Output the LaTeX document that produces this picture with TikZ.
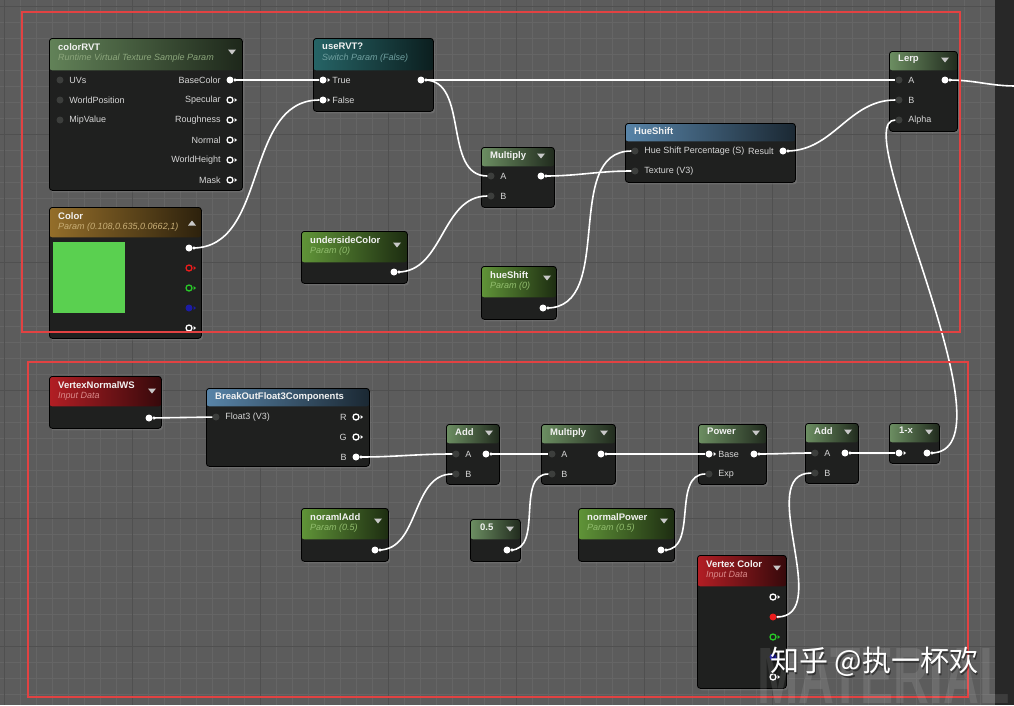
\documentclass[tikz,border=0pt]{standalone}
\usepackage{fontspec}
\setmainfont{Liberation Sans}
\newfontfamily\cjk{Noto Sans CJK SC}
\usetikzlibrary{positioning,shadows}

\definecolor{canvascol}{RGB}{92,92,92}
\definecolor{gridcol}{RGB}{101,101,101}
\definecolor{gridcolb}{RGB}{80,80,80}
\definecolor{stripcol}{RGB}{40,40,40}
\definecolor{nodebody}{RGB}{31,32,31}
\definecolor{pinoff}{RGB}{60,62,60}
\definecolor{titletext}{RGB}{242,242,242}
\definecolor{labeltext}{RGB}{214,214,214}
\definecolor{ddcol}{RGB}{200,200,200}
\definecolor{framered}{RGB}{226,66,66}
\definecolor{hdrrvt}{RGB}{98,130,88}
\definecolor{hdrmath}{RGB}{108,142,98}
\definecolor{hdrparam}{RGB}{96,148,56}
\definecolor{hdrteal}{RGB}{38,100,102}
\definecolor{hdrblue}{RGB}{88,132,168}
\definecolor{hdrred}{RGB}{178,30,36}
\definecolor{hdrgold}{RGB}{148,110,42}
\definecolor{subrvt}{RGB}{140,166,124}
\definecolor{subteal}{RGB}{112,160,160}
\definecolor{subgold}{RGB}{200,174,118}
\definecolor{subparam}{RGB}{146,190,110}
\definecolor{subred}{RGB}{218,138,138}
\definecolor{swatch}{RGB}{90,208,80}
\definecolor{pinred}{RGB}{236,28,28}
\definecolor{pingreen}{RGB}{40,200,40}
\definecolor{pinblue}{RGB}{28,28,165}

\tikzset{
  matbox/.style n args={4}{draw=black, line width=0.8pt, fill=nodebody,
    rounded corners=3pt, anchor=north west, inner sep=0pt,
    minimum width=#1pt, minimum height=#2pt,
    drop shadow={opacity=0.45, shadow xshift=1.5pt, shadow yshift=-2pt},
    path picture={\shade[left color=#3, right color=#3!30!black]
      (path picture bounding box.north west) rectangle
      ([yshift=-#4pt]path picture bounding box.north east);}},
  ttl/.style={font=\fontsize{9.5}{11}\selectfont\bfseries, text=titletext, inner sep=0pt},
  sub/.style={font=\fontsize{9}{10}\selectfont\itshape, text=#1, inner sep=0pt},
  lbl/.style={font=\fontsize{9}{10}\selectfont, text=labeltext, inner ysep=0pt, inner xsep=5.5pt},
  pinbase/.style={circle, inner sep=0pt, minimum size=7pt},
  pintip/.style={append after command={\pgfextra{\fill[#1]
      ([shift={(1pt,1.9pt)}]\tikzlastnode.east) -- ++(2.3pt,-1.9pt) -- ++(-2.3pt,-1.9pt) -- cycle;}}},
  outpin/.style={pinbase, fill=#1, pintip=#1},
  outpin/.default=white,
  ringpin/.style={pinbase, draw=#1, line width=1.3pt, minimum size=6pt, pintip=#1},
  ringpin/.default=white,
  inpin/.style={pinbase, fill=pinoff},
  onpin/.style={pinbase, fill=white, pintip=white},
  wire/.style={draw=white, line width=1.6pt},
  redframe/.style={draw=framered, line width=2.4pt},
  pics/dd/.style={code={\fill[ddcol] (-4pt,2.5pt) -- (4pt,2.5pt) -- (0pt,-2.5pt) -- cycle;}},
  pics/du/.style={code={\fill[ddcol] (-4pt,-2.5pt) -- (4pt,-2.5pt) -- (0pt,2.5pt) -- cycle;}},
}

\begin{document}
\begin{tikzpicture}[x=1pt,y=-1pt]
    \useasboundingbox (0,0) rectangle (1014,705);
    \clip (0,0) rectangle (1014,705);

    % Canvas
    \fill[canvascol] (0,0) rectangle (1014,705);
    \foreach \gx in {4,20,...,1000} \draw[gridcol, line width=0.6pt] (\gx,0) -- (\gx,705);
    \foreach \gy in {6,22,...,702} \draw[gridcol, line width=0.6pt] (0,\gy) -- (1014,\gy);
    \foreach \gx in {4,132,...,900} \draw[gridcolb, line width=0.8pt] (\gx,0) -- (\gx,705);
    \foreach \gy in {6,134,...,700} \draw[gridcolb, line width=0.8pt] (0,\gy) -- (1014,\gy);
    \fill[stripcol] (995,0) rectangle (1014,705);

    % Nodes
    \node[matbox={193}{152}{hdrrvt}{32}] (colorRVT) at (49,38) {};
    \node[matbox={120}{73}{hdrteal}{32}] (useRVT) at (313,38) {};
    \node[matbox={73}{60}{hdrmath}{19}] (mulTop) at (481,147) {};
    \node[matbox={170}{59}{hdrblue}{18}] (hueFn) at (625,123) {};
    \node[matbox={68}{80}{hdrmath}{19}] (lerp) at (889,51) {};
    \node[matbox={152}{131}{hdrgold}{30}] (colorP) at (49,207) {};
    \node[matbox={106}{52}{hdrparam}{31}] (under) at (301,231) {};
    \node[matbox={75}{53}{hdrparam}{31}] (hueP) at (481,266) {};

    \node[matbox={112}{52}{hdrred}{30}] (vnormal) at (49,376) {};
    \node[matbox={163}{78}{hdrblue}{18}] (breakout) at (206,388) {};
    \node[matbox={53}{60}{hdrmath}{19}] (add1) at (446,424) {};
    \node[matbox={74}{60}{hdrmath}{19}] (mul2) at (541,424) {};
    \node[matbox={68}{60}{hdrmath}{19}] (pow) at (698,424) {};
    \node[matbox={53}{60}{hdrmath}{19}] (add2) at (805,423) {};
    \node[matbox={50}{40}{hdrmath}{19}] (omx) at (889,423) {};
    \node[matbox={87}{53}{hdrparam}{31}] (nadd) at (301,508) {};
    \node[matbox={50}{42}{hdrmath}{20}] (half) at (470,519) {};
    \node[matbox={96}{53}{hdrparam}{31}] (npow) at (578,508) {};
    \node[matbox={89}{133}{hdrred}{31}] (vcol) at (697,555) {};

    \node[fill=swatch, anchor=north west, inner sep=0pt, minimum width=72pt, minimum height=71pt] (colorP_sw) at (53,242) {};

    % Titles
    \node[ttl, below right=5pt and 9pt of colorRVT.north west] (colorRVT_t) {colorRVT};
    \node[sub=subrvt, below right=4pt and 0pt of colorRVT_t.base west] (colorRVT_s) {Runtime Virtual Texture Sample Param};
    \node[ttl, below right=5pt and 9pt of useRVT.north west] (useRVT_t) {useRVT?};
    \node[sub=subteal, below right=4pt and 0pt of useRVT_t.base west] (useRVT_s) {Switch Param (False)};
    \node[ttl, below right=4pt and 9pt of mulTop.north west] (mulTop_t) {Multiply};
    \node[ttl, below right=4pt and 9pt of hueFn.north west] (hueFn_t) {HueShift};
    \node[ttl, below right=4pt and 9pt of lerp.north west] (lerp_t) {Lerp};
    \node[ttl, below right=5pt and 9pt of colorP.north west] (colorP_t) {Color};
    \node[sub=subgold, below right=4pt and 0pt of colorP_t.base west] (colorP_s) {Param (0.108,0.635,0.0662,1)};
    \node[ttl, below right=5pt and 9pt of under.north west] (under_t) {undersideColor};
    \node[sub=subparam, below right=4pt and 0pt of under_t.base west] (under_s) {Param (0)};
    \node[ttl, below right=5pt and 9pt of hueP.north west] (hueP_t) {hueShift};
    \node[sub=subparam, below right=4pt and 0pt of hueP_t.base west] (hueP_s) {Param (0)};

    \node[ttl, below right=5pt and 9pt of vnormal.north west] (vnormal_t) {VertexNormalWS};
    \node[sub=subred, below right=4pt and 0pt of vnormal_t.base west] (vnormal_s) {Input Data};
    \node[ttl, below right=4pt and 9pt of breakout.north west] (breakout_t) {BreakOutFloat3Components};
    \node[ttl, below right=4pt and 9pt of add1.north west] (add1_t) {Add};
    \node[ttl, below right=4pt and 9pt of mul2.north west] (mul2_t) {Multiply};
    \node[ttl, below right=4pt and 9pt of pow.north west] (pow_t) {Power};
    \node[ttl, below right=4pt and 9pt of add2.north west] (add2_t) {Add};
    \node[ttl, below right=4pt and 10pt of omx.north west] (omx_t) {1-x};
    \node[ttl, below right=5pt and 9pt of nadd.north west] (nadd_t) {noramlAdd};
    \node[sub=subparam, below right=4pt and 0pt of nadd_t.base west] (nadd_s) {Param (0.5)};
    \node[ttl, below right=5pt and 10pt of half.north west] (half_t) {0.5};
    \node[ttl, below right=5pt and 9pt of npow.north west] (npow_t) {normalPower};
    \node[sub=subparam, below right=4pt and 0pt of npow_t.base west] (npow_s) {Param (0.5)};
    \node[ttl, below right=5pt and 9pt of vcol.north west] (vcol_t) {Vertex Color};
    \node[sub=subred, below right=4pt and 0pt of vcol_t.base west] (vcol_s) {Input Data};

    % Dropdown arrows
    \pic at (232,52) {dd};
    \pic at (541,156) {dd};
    \pic at (945,60) {dd};
    \pic at (192,223) {du};
    \pic at (397,245) {dd};
    \pic at (547,278) {dd};
    \pic at (152,391) {dd};
    \pic at (489,433) {dd};
    \pic at (604,433) {dd};
    \pic at (756,433) {dd};
    \pic at (848,432) {dd};
    \pic at (929,432) {dd};
    \pic at (378,521) {dd};
    \pic at (510,529) {dd};
    \pic at (664,521) {dd};
    \pic at (777,568) {dd};

    % Ports
    \node[inpin, label={[lbl]right:UVs}] (rvt_uv) at (60,80) {};
    \node[inpin, label={[lbl]right:WorldPosition}] (rvt_wp) at (60,100) {};
    \node[inpin, label={[lbl]right:MipValue}] (rvt_mip) at (60,120) {};
    \node[outpin, label={[lbl]left:BaseColor}] (rvt_base) at (230,80) {};
    \node[ringpin, label={[lbl]left:Specular}] (rvt_spec) at (230,100) {};
    \node[ringpin, label={[lbl]left:Roughness}] (rvt_rough) at (230,120) {};
    \node[ringpin, label={[lbl]left:Normal}] (rvt_norm) at (230,140) {};
    \node[ringpin, label={[lbl]left:WorldHeight}] (rvt_wh) at (230,160) {};
    \node[ringpin, label={[lbl]left:Mask}] (rvt_mask) at (230,180) {};

    \node[onpin, label={[lbl]right:True}] (use_true) at (323,80) {};
    \node[onpin, label={[lbl]right:False}] (use_false) at (323,100) {};
    \node[outpin] (use_out) at (421,80) {};

    \node[inpin, label={[lbl]right:A}] (mul_a) at (491,176) {};
    \node[inpin, label={[lbl]right:B}] (mul_b) at (491,196) {};
    \node[outpin] (mul_out) at (541,176) {};

    \node[inpin, label={[lbl]right:Hue Shift Percentage (S)}] (hs_pct) at (635,151) {};
    \node[inpin, label={[lbl]right:Texture (V3)}] (hs_tex) at (635,171) {};
    \node[outpin, label={[lbl]left:Result}] (hs_out) at (783,151) {};

    \node[inpin, label={[lbl]right:A}] (lerp_a) at (899,80) {};
    \node[inpin, label={[lbl]right:B}] (lerp_b) at (899,100) {};
    \node[inpin, label={[lbl]right:Alpha}] (lerp_alpha) at (899,120) {};
    \node[outpin] (lerp_out) at (945,80) {};

    \node[outpin] (col_rgb) at (189,248) {};
    \node[ringpin=pinred] (col_r) at (189,268) {};
    \node[ringpin=pingreen] (col_g) at (189,288) {};
    \node[outpin=pinblue] (col_b) at (189,308) {};
    \node[ringpin] (col_a) at (189,328) {};

    \node[outpin] (us_out) at (394,272) {};
    \node[outpin] (hue_out) at (543,308) {};

    \node[outpin] (vn_out) at (149,418) {};
    \node[inpin, label={[lbl]right:Float3 (V3)}] (bo_in) at (216,417) {};
    \node[ringpin, label={[lbl]left:R}] (bo_r) at (356,417) {};
    \node[ringpin, label={[lbl]left:G}] (bo_g) at (356,437) {};
    \node[outpin, label={[lbl]left:B}] (bo_b) at (356,457) {};

    \node[inpin, label={[lbl]right:A}] (add1_a) at (456,454) {};
    \node[inpin, label={[lbl]right:B}] (add1_b) at (456,474) {};
    \node[outpin] (add1_out) at (486,454) {};
    \node[inpin, label={[lbl]right:A}] (mul2_a) at (552,454) {};
    \node[inpin, label={[lbl]right:B}] (mul2_b) at (552,474) {};
    \node[outpin] (mul2_out) at (601,454) {};
    \node[onpin, label={[lbl]right:Base}] (pow_base) at (709,454) {};
    \node[inpin, label={[lbl]right:Exp}] (pow_exp) at (709,474) {};
    \node[outpin] (pow_out) at (754,454) {};
    \node[inpin, label={[lbl]right:A}] (add2_a) at (815,453) {};
    \node[inpin, label={[lbl]right:B}] (add2_b) at (815,473) {};
    \node[outpin] (add2_out) at (845,453) {};
    \node[onpin] (omx_in) at (899,453) {};
    \node[outpin] (omx_out) at (927,453) {};

    \node[outpin] (nadd_out) at (375,550) {};
    \node[outpin] (half_out) at (507,550) {};
    \node[outpin] (npow_out) at (661,550) {};

    \node[ringpin] (vc_rgb) at (773,597) {};
    \node[outpin=pinred] (vc_r) at (773,617) {};
    \node[ringpin=pingreen] (vc_g) at (773,637) {};
    \node[outpin=pinblue] (vc_b) at (773,657) {};
    \node[ringpin] (vc_a) at (773,677) {};

    \coordinate (lerp_exit) at (1016,86);

    % Edges
    \draw[wire] (rvt_base) -- (use_true);
    \draw[wire] (col_rgb) to[out=0, in=180] (use_false);
    \draw[wire] (use_out) -- (lerp_a);
    \draw[wire] (use_out) to[out=0, in=180] (mul_a);
    \draw[wire] (us_out) to[out=0, in=180] (mul_b);
    \draw[wire] (mul_out) to[out=0, in=180] (hs_tex);
    \draw[wire] (hue_out) to[out=0, in=180] (hs_pct);
    \draw[wire] (hs_out) to[out=0, in=180] (lerp_b);
    \draw[wire] (lerp_out) to[out=0, in=180] (lerp_exit);
    \draw[wire] (omx_out.east) .. controls +(90,0) and +(-50,0) .. (lerp_alpha.west);

    \draw[wire] (vn_out) -- (bo_in);
    \draw[wire] (bo_b) to[out=0, in=180] (add1_a);
    \draw[wire] (nadd_out) to[out=0, in=180] (add1_b);
    \draw[wire] (add1_out) -- (mul2_a);
    \draw[wire] (half_out) to[out=0, in=180] (mul2_b);
    \draw[wire] (mul2_out) -- (pow_base);
    \draw[wire] (npow_out) to[out=0, in=180] (pow_exp);
    \draw[wire] (pow_out) to[out=0, in=180] (add2_a);
    \draw[wire] (vc_r) to[out=0, in=180] (add2_b);
    \draw[wire] (add2_out) -- (omx_in);

    % Frames
    \draw[redframe] (22,12) rectangle (960,332);
    \draw[redframe] (28,362) rectangle (968,697);

    % Watermarks
    \node[font=\fontsize{80}{80}\selectfont\bfseries, text=white, opacity=0.1,
          xscale=0.62, anchor=north west, inner sep=0pt] (wm_mat) at (757,648) {MATERIAL};
    \node[font=\cjk\fontsize{29}{29}\selectfont, text=black, opacity=0.45,
          anchor=west, inner sep=0pt] (wm_shadow) at (771.5,664) {知乎 @执一杯欢};
    \node[font=\cjk\fontsize{29}{29}\selectfont, text=white,
          anchor=west, inner sep=0pt] (wm_zh) at (770,662) {知乎 @执一杯欢};
\end{tikzpicture}
\end{document}
